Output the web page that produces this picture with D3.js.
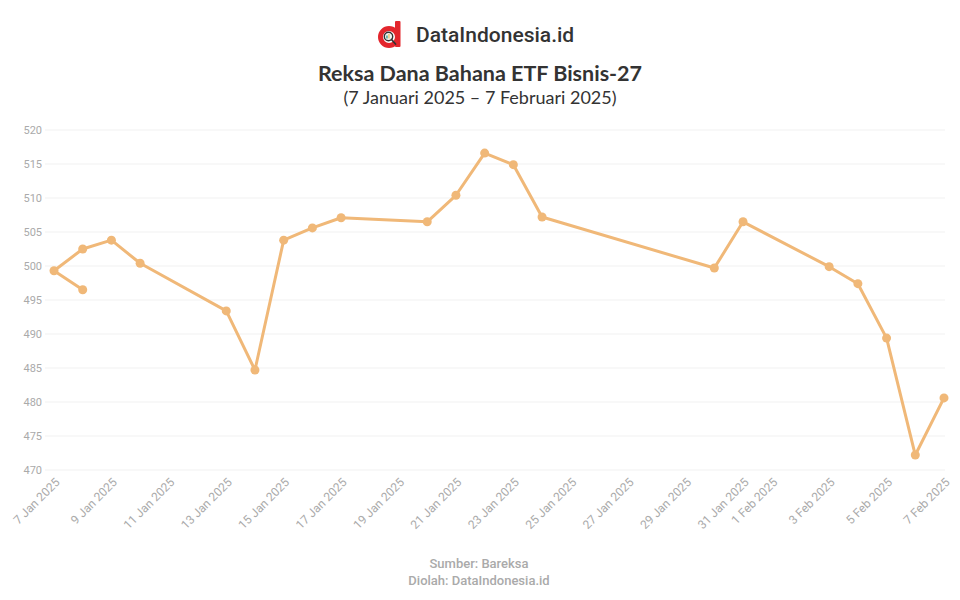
<!DOCTYPE html>
<html>
<head>
<meta charset="utf-8">
<script src="https://cdn.jsdelivr.net/npm/d3@7"></script>
<style>
  html, body { margin: 0; padding: 0; background: #fff; }
  svg { display: block; }
</style>
</head>
<body>
<svg id="chart" width="960" height="600"></svg>
<script>
// ---- data ----
const dates = ["2025-01-08","2025-01-07","2025-01-08","2025-01-09","2025-01-10",
  "2025-01-13","2025-01-14","2025-01-15","2025-01-16","2025-01-17",
  "2025-01-20","2025-01-21","2025-01-22","2025-01-23","2025-01-24",
  "2025-01-30","2025-01-31","2025-02-03","2025-02-04","2025-02-05",
  "2025-02-06","2025-02-07"];
const values = [496.5, 499.3, 502.5, 503.8, 500.4,
  493.4, 484.7, 503.8, 505.6, 507.1,
  506.5, 510.4, 516.6, 514.9, 507.2,
  499.7, 506.5, 499.9, 497.4, 489.4,
  472.2, 480.6];
const yTicks = [470, 475, 480, 485, 490, 495, 500, 505, 510, 515, 520];
const xStart = "2025-01-07";
const xEnd = "2025-02-07";
const title = "Reksa Dana Bahana ETF Bisnis-27";
const subtitle = "(7 Januari 2025 \u2013 7 Februari 2025)";
const brand = "DataIndonesia.id";
const sourceLines = ["Sumber: Bareksa", "Diolah: DataIndonesia.id"];

// ---- setup ----
const parse = d3.timeParse("%Y-%m-%d");
const data = dates.map((d, i) => ({ date: parse(d), value: values[i] }));
const svg = d3.select("#chart");
const W = 960;
const lineColor = "#f0b878";

const x = d3.scaleTime().domain([parse(xStart), parse(xEnd)]).range([54, 944]);
const y = d3.scaleLinear().domain([470, 520]).range([470, 130]);

// ---- header ----
const logo = svg.append("g").attr("transform", "translate(378,21)");
logo.append("circle").attr("cx", 11).attr("cy", 16).attr("r", 8.5)
  .attr("fill", "none").attr("stroke", "#e3262d").attr("stroke-width", 5);
logo.append("rect").attr("x", 17).attr("y", 0).attr("width", 5.5).attr("height", 26)
  .attr("rx", 1).attr("fill", "#e3262d");
logo.append("circle").attr("cx", 10.5).attr("cy", 15.5).attr("r", 4.2)
  .attr("fill", "#f3f3f3").attr("stroke", "#333").attr("stroke-width", 1.4);
logo.append("rect").attr("x", 8.3).attr("y", 14.5).attr("width", 1.3).attr("height", 3).attr("fill", "#2a9d8f");
logo.append("rect").attr("x", 10.3).attr("y", 13).attr("width", 1.3).attr("height", 4.5).attr("fill", "#e9c46a");
logo.append("line").attr("x1", 13.5).attr("y1", 18.5).attr("x2", 17.5).attr("y2", 23)
  .attr("stroke", "#333").attr("stroke-width", 1.8).attr("stroke-linecap", "round");

svg.append("text").attr("x", 416).attr("y", 42)
  .attr("font-family", "Roboto, sans-serif").attr("font-weight", 500)
  .attr("font-size", 21).attr("fill", "#333").text(brand);

svg.append("text").attr("x", W / 2).attr("y", 81).attr("text-anchor", "middle")
  .attr("font-family", "Lato, sans-serif").attr("font-weight", 700)
  .attr("font-size", 21.5).attr("fill", "#333").text(title);

svg.append("text").attr("x", W / 2).attr("y", 104).attr("text-anchor", "middle")
  .attr("font-family", "Lato, sans-serif").attr("font-weight", 400)
  .attr("font-size", 18).attr("fill", "#333").text(subtitle);

// ---- grid + y axis ----
const grid = svg.append("g");
grid.selectAll("line").data(yTicks).join("line")
  .attr("x1", 45).attr("x2", 945)
  .attr("y1", d => y(d)).attr("y2", d => y(d))
  .attr("stroke", "#f1f1f1").attr("stroke-width", 1);

const yAxis = svg.append("g").attr("transform", "translate(44,0)")
  .call(d3.axisLeft(y).tickValues(yTicks).tickSize(0).tickPadding(2));
yAxis.select(".domain").remove();
yAxis.selectAll("text").attr("font-family", "Roboto, sans-serif")
  .attr("font-size", 11).attr("fill", "#aaa");

// ---- x axis ----
const xAxis = svg.append("g").attr("transform", "translate(0,472)")
  .call(d3.axisBottom(x).ticks(d3.timeDay.every(2))
    .tickFormat(d3.timeFormat("%-d %b %Y")).tickSize(0).tickPadding(6));
xAxis.select(".domain").remove();
xAxis.selectAll("text")
  .attr("font-family", "Roboto, sans-serif").attr("font-size", 12).attr("fill", "#aaa")
  .attr("text-anchor", "end")
  .attr("dx", "-0.3em").attr("dy", "0.5em")
  .attr("transform", "rotate(-45)");

// ---- line + markers ----
const line = d3.line().x(d => x(d.date)).y(d => y(d.value));
svg.append("path").datum(data)
  .attr("d", line).attr("fill", "none")
  .attr("stroke", lineColor).attr("stroke-width", 3)
  .attr("stroke-linejoin", "round").attr("stroke-linecap", "round");

svg.append("g").selectAll("circle").data(data).join("circle")
  .attr("cx", d => x(d.date)).attr("cy", d => y(d.value)).attr("r", 4.5)
  .attr("fill", lineColor);

// ---- source ----
svg.append("g").selectAll("text").data(sourceLines).join("text")
  .attr("x", W / 2 - 1).attr("y", (d, i) => 568 + i * 17)
  .attr("text-anchor", "middle")
  .attr("font-family", "Roboto, sans-serif").attr("font-size", 13)
  .attr("font-weight", 500).attr("fill", "#aaa").text(d => d);
</script>
</body>
</html>
